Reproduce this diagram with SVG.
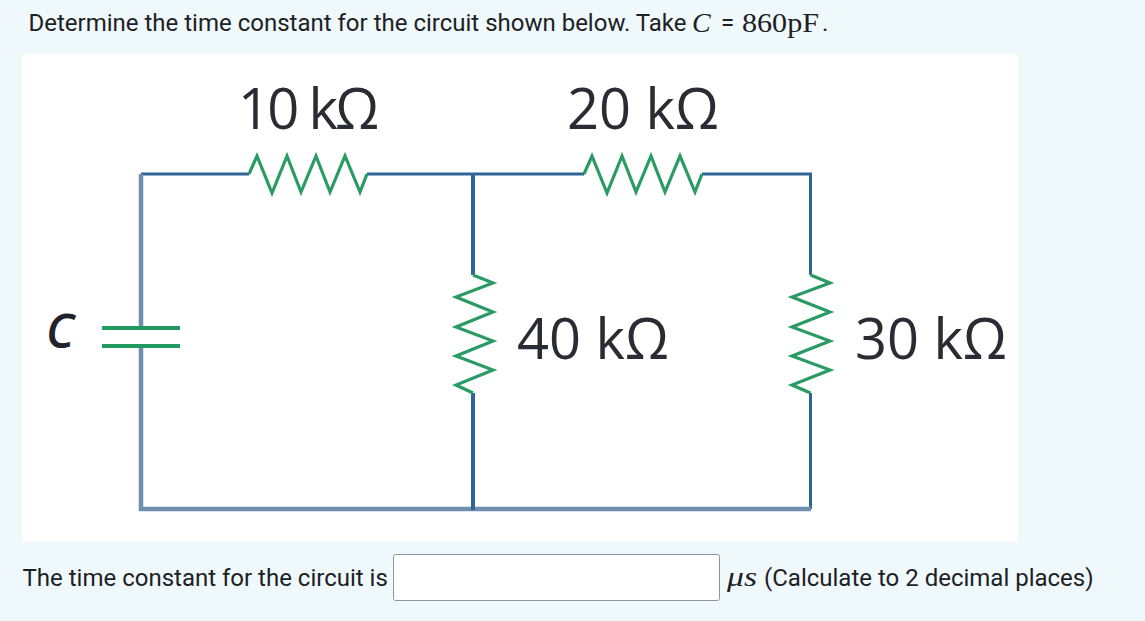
<svg xmlns="http://www.w3.org/2000/svg" width="1145" height="621" viewBox="0 0 1145 621">
  <style>
    .ui { font-family: Roboto, "Liberation Sans", sans-serif; font-size: 24px; fill: #1d2125; }
    .math { font-family: "Liberation Serif", serif; font-size: 28px; fill: #1d2125; }
    .lbl { font-family: "Open Sans", "Noto Sans", sans-serif; font-size: 56px; fill: #2b2b33; }
    .wire { fill: none; stroke: #2f6496; stroke-width: 3; }
    .wire2 { fill: none; stroke: #6f8fb0; stroke-width: 4.5; }
    .wire3 { fill: none; stroke: #2f6496; stroke-width: 4; }
    .res { fill: none; stroke: #2a9b64; stroke-width: 3.2; stroke-linejoin: miter; }
    .plate { fill: none; stroke: #219a5f; stroke-width: 4; }
  </style>
  <rect width="1145" height="621" fill="#eff8fb"/>
  <rect x="22" y="54" width="996" height="488" fill="#ffffff"/>
  <g id="question">
    <text class="ui" x="28.500" y="31">Determine the time constant for the circuit shown below. Take</text>
    <text class="math" x="692" y="32" font-style="italic">C</text>
    <text class="ui" x="721" y="31">=</text>
    <text class="math" x="742" y="32" textLength="77" lengthAdjust="spacingAndGlyphs">860pF</text>
    <text class="ui" x="822" y="31">.</text>
  </g>
  <g id="connectors">
    <path class="wire" d="M249 174H141M367 174H584M702 174H810.500V275M810.500 393V509"/>
    <path class="wire2" d="M141 174V328M141 346V509H811"/>
    <path class="wire3" d="M473 174V275M473 393V510"/>
  </g>
  <g id="r10">
    <polyline class="res" points="249,174 257,156 272,193 287,156 301,192 316,156 330,192 345,156 360,192 367,174"/>
    <text class="lbl" x="238" y="129" textLength="141">10 kΩ</text>
  </g>
  <g id="r20">
    <polyline class="res" points="584,174 592,156 607,193 622,156 636,192 651,156 665,192 680,156 695,192 702,174"/>
    <text class="lbl" x="567" y="129">20 kΩ</text>
  </g>
  <g id="r40">
    <polyline class="res" points="473,275 493,283 456,297 493,312 456,327 493,341 456,356 493,370 456,385 473,393"/>
    <text class="lbl" x="517" y="359">40 kΩ</text>
  </g>
  <g id="r30">
    <polyline class="res" points="810.500,275 830,283 792,297 830,312 792,327 830,341 792,356 830,370 792,385 810.500,393"/>
    <text class="lbl" x="855" y="359">30 kΩ</text>
  </g>
  <g id="capacitor">
    <path class="plate" d="M102 328H180M102 346H180"/>
    <text x="46" y="348" font-family="'Open Sans', 'Noto Sans', sans-serif" font-size="47" font-style="italic" font-weight="600" fill="#22222a">C</text>
  </g>
  <g id="answer">
    <text class="ui" x="22.500" y="586">The time constant for the circuit is</text>
    <rect x="393.500" y="554.500" width="326" height="46" rx="2" fill="#ffffff" stroke="#8f959e"/>
    <text class="math" x="727" y="586" font-style="italic" textLength="30" lengthAdjust="spacingAndGlyphs">μs</text>
    <text class="ui" x="764" y="586">(Calculate to 2 decimal places)</text>
  </g>
</svg>
